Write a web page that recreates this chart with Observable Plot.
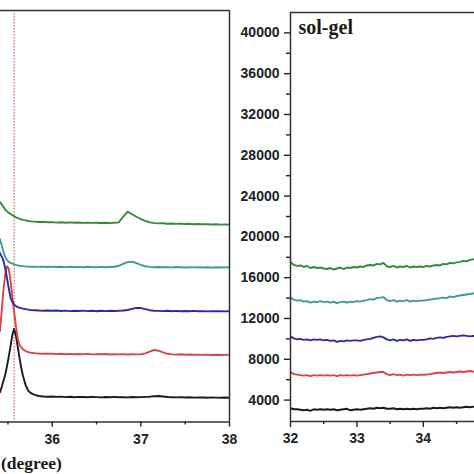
<!DOCTYPE html>
<html>
<head>
<meta charset="utf-8">
<script src="https://cdn.jsdelivr.net/npm/d3@7"></script>
<script src="https://cdn.jsdelivr.net/npm/@observablehq/plot@0.6"></script>
<style>
  html, body { margin: 0; padding: 0; background: #fff; }
  #fig { position: relative; width: 474px; height: 474px; overflow: hidden; background: #fff; }
  #fig svg { position: absolute; top: 0; overflow: visible; }
</style>
</head>
<body>
<div id="fig"></div>
<script>
// XRD patterns: close-up of the (101) region (left) and the sol-gel series (right)

// ---- close-up panel, 2θ in degrees ----
const zoomAngle = [
  35.41, 35.43, 35.45, 35.47, 35.49, 35.51, 35.53, 35.55, 35.57, 35.59,
  35.61, 35.63, 35.65, 35.67, 35.70, 35.73, 35.76, 35.80, 35.85, 35.90,
  35.95, 36.00, 36.05, 36.10, 36.15, 36.20, 36.25, 36.30, 36.35, 36.40,
  36.45, 36.50, 36.55, 36.60, 36.65, 36.70, 36.75, 36.80, 36.85, 36.90,
  36.95, 37.00, 37.05, 37.10, 37.15, 37.20, 37.25, 37.30, 37.35, 37.40,
  37.45, 37.50, 37.55, 37.60, 37.65, 37.70, 37.75, 37.80, 37.85, 37.90,
  37.95, 38.00
];
const zoomBlack = [
  4800, 5350, 5950, 6550, 7400, 8350, 9350, 10450, 11000, 10350,
  9300, 8200, 7200, 6400, 5500, 4950, 4720, 4560, 4450, 4400,
  4380, 4400, 4360, 4390, 4340, 4370, 4330, 4360, 4350, 4320,
  4360, 4340, 4310, 4350, 4330, 4360, 4320, 4340, 4310, 4350,
  4320, 4340, 4360, 4380, 4420, 4450, 4400, 4350, 4330, 4310,
  4340, 4300, 4320, 4290, 4310, 4300, 4280, 4310, 4290, 4280,
  4300, 4280
];
const zoomRed = [
  10800, 12800, 14900, 16400, 17150, 16900, 15700, 14100, 12700, 11300,
  10100, 9500, 9200, 9000, 8850, 8750, 8680, 8640, 8600, 8580,
  8600, 8580, 8550, 8590, 8540, 8570, 8530, 8560, 8540, 8570,
  8520, 8550, 8530, 8560, 8510, 8540, 8520, 8550, 8510, 8530,
  8520, 8540, 8620, 8800, 8950, 8880, 8720, 8580, 8520, 8500,
  8530, 8490, 8510, 8480, 8500, 8470, 8490, 8460, 8480, 8460,
  8470, 8470
];
const zoomBlue = [
  18450, 18100, 17680, 16900, 15950, 14950, 14050, 13650, 13400, 13250,
  13150, 13100, 13050, 13000, 12950, 12900, 12870, 12850, 12820, 12800,
  12820, 12790, 12820, 12770, 12810, 12760, 12800, 12770, 12810, 12760,
  12790, 12750, 12790, 12760, 12800, 12770, 12790, 12820, 12870, 12980,
  13080, 13060, 12950, 12850, 12800, 12780, 12760, 12790, 12750, 12780,
  12740, 12770, 12750, 12780, 12740, 12760, 12730, 12760, 12740, 12750,
  12730, 12750
];
const zoomTeal = [
  19800, 19200, 18550, 18050, 17750, 17580, 17480, 17400, 17330, 17280,
  17240, 17200, 17180, 17160, 17140, 17120, 17110, 17100, 17090, 17110,
  17080, 17120, 17080, 17110, 17070, 17100, 17060, 17090, 17060, 17100,
  17070, 17050, 17090, 17060, 17080, 17100, 17200, 17380, 17560, 17600,
  17450, 17280, 17150, 17090, 17060, 17080, 17050, 17070, 17040, 17080,
  17050, 17030, 17060, 17040, 17070, 17030, 17050, 17020, 17050, 17030,
  17040, 17050
];
const zoomGreen = [
  23450, 23200, 22950, 22700, 22520, 22380, 22270, 22150, 22050, 21950,
  21880, 21800, 21750, 21700, 21640, 21590, 21550, 21520, 21490, 21500,
  21460, 21470, 21430, 21460, 21420, 21450, 21410, 21440, 21400, 21430,
  21400, 21420, 21390, 21410, 21380, 21420, 21450, 22000, 22500, 22250,
  22000, 21780, 21600, 21450, 21380, 21350, 21360, 21320, 21340, 21300,
  21320, 21290, 21310, 21270, 21290, 21260, 21280, 21240, 21260, 21230,
  21250, 21230
];
const referenceAngle = 35.57;
const zoomTicks = [36, 37, 38];
const zoomMinorTicks = [35.5, 36.5, 37.5];
const zoomAxisLabel = "(degree)";

// ---- sol-gel panel ----
const solGelAngle = [
  32.00, 32.05, 32.10, 32.15, 32.20, 32.25, 32.30, 32.35, 32.40, 32.45,
  32.50, 32.55, 32.60, 32.65, 32.70, 32.75, 32.80, 32.85, 32.90, 32.95,
  33.00, 33.05, 33.10, 33.15, 33.20, 33.25, 33.30, 33.35, 33.40, 33.45,
  33.50, 33.55, 33.60, 33.65, 33.70, 33.75, 33.80, 33.85, 33.90, 33.95,
  34.00, 34.05, 34.10, 34.15, 34.20, 34.25, 34.30, 34.35, 34.40, 34.45,
  34.50, 34.55, 34.60, 34.65, 34.70, 34.75, 34.80
];
const solGelGreen = [
  17550, 17250, 17150, 17200, 17050, 17150, 16950, 17050, 16950, 17000,
  16900, 16850, 16950, 16800, 16900, 17000, 16850, 17000, 16950, 17050,
  17000, 17100, 17050, 17200, 17250, 17200, 17350, 17300, 17450, 17100,
  17050, 17150, 17000, 17100, 17050, 17150, 17000, 17100, 17050, 17100,
  17050, 17150, 17100, 17200, 17250, 17200, 17350, 17300, 17450, 17400,
  17500, 17550, 17650, 17600, 17750, 17800, 17850
];
const solGelTeal = [
  14050, 13850, 13750, 13800, 13650, 13700, 13550, 13650, 13600, 13700,
  13600, 13650, 13550, 13650, 13500, 13600, 13650, 13550, 13650, 13600,
  13700, 13650, 13750, 13800, 13900, 13850, 14000, 14050, 14100, 13800,
  13700, 13800, 13650, 13750, 13700, 13800, 13650, 13750, 13700, 13750,
  13750, 13800, 13850, 13900, 13950, 14000, 14050, 14000, 14150, 14100,
  14200, 14250, 14300, 14350, 14400, 14450, 14450
];
const solGelBlue = [
  10250, 10050, 9950, 10000, 9900, 9950, 9850, 9950, 9900, 9950,
  9850, 9900, 9800, 9850, 9700, 9800, 9750, 9850, 9800, 9850,
  9850, 9800, 9900, 9950, 10000, 10100, 10200, 10250, 10150, 9950,
  9850, 9950, 9800, 9900, 9850, 9950, 9800, 9900, 9850, 9900,
  9900, 9950, 10050, 10000, 10100, 10150, 10100, 10200, 10250, 10300,
  10250, 10300, 10350, 10300, 10250, 10300, 10250
];
const solGelRed = [
  6750, 6550, 6500, 6450, 6400, 6450, 6350, 6450, 6400, 6450,
  6400, 6450, 6400, 6450, 6350, 6450, 6400, 6450, 6400, 6450,
  6400, 6450, 6500, 6550, 6600, 6650, 6700, 6750, 6750, 6550,
  6450, 6550, 6450, 6500, 6400, 6500, 6450, 6500, 6450, 6500,
  6480, 6500, 6550, 6600, 6650, 6700, 6650, 6700, 6750, 6700,
  6750, 6800, 6750, 6800, 6850, 6800, 6750
];
const solGelBlack = [
  3200, 3100, 3100, 3050, 3000, 3050, 2950, 3100, 3050, 3100,
  3050, 3100, 3050, 3100, 3000, 3050, 3100, 3150, 3000, 3050,
  3100, 3050, 3100, 3150, 3200, 3150, 3250, 3200, 3250, 3150,
  3150, 3200, 3100, 3150, 3100, 3150, 3100, 3150, 3100, 3150,
  3150, 3200, 3150, 3250, 3200, 3250, 3200, 3250, 3300, 3250,
  3300, 3250, 3300, 3350, 3300, 3350, 3300
];
const solGelTicks = [32, 33, 34];
const solGelMinorTicks = [32.5, 33.5, 34.5];
const intensityTicks = [4000, 8000, 12000, 16000, 20000, 24000, 28000, 32000, 36000, 40000];
const intensityMinorTicks = [6000, 10000, 14000, 18000, 22000, 26000, 30000, 34000, 38000];
const solGelTitle = "sol-gel";

// ---- drawing ----
const colors = {
  black: "#1b1b1b",
  red: "#d5474b",
  blue: "#2a2aa6",
  teal: "#3b9c94",
  green: "#358a35"
};
const axisColor = "#333";

function rows(xs, ys) {
  return xs.map((x, i) => ({angle: x, counts: ys[i]}));
}

const zoomX = [35.416, 38];
const zoomY = [1900, 42200];
const solX = [32, 34.77];
const solY = [1900, 42000];

const baseStyle = {
  fontFamily: "'Liberation Sans', Arial, sans-serif",
  fontSize: "14px",
  fontWeight: "bold",
  color: "#222",
  background: "transparent"
};

const zoomSeries = [
  [zoomBlack, colors.black], [zoomRed, colors.red], [zoomBlue, colors.blue],
  [zoomTeal, colors.teal], [zoomGreen, colors.green]
];
const solSeries = [
  [solGelBlack, colors.black], [solGelRed, colors.red], [solGelBlue, colors.blue],
  [solGelTeal, colors.teal], [solGelGreen, colors.green]
];

const left = Plot.plot({
  width: 240, height: 474,
  marginLeft: 0, marginRight: 11, marginTop: 10, marginBottom: 52.5,
  x: {domain: zoomX},
  y: {domain: zoomY, axis: null},
  style: baseStyle,
  marks: [
    Plot.ruleX([referenceAngle], {stroke: "#c85a5e", strokeWidth: 1.1, strokeDasharray: "1.5,1.5"}),
    ...zoomSeries.map(([ys, c]) =>
      Plot.line(rows(zoomAngle, ys), {x: "angle", y: "counts", stroke: c, strokeWidth: 1.9, clip: true})),
    Plot.ruleY([zoomY[1]], {stroke: axisColor, strokeWidth: 1.5}),
    Plot.ruleY([zoomY[0]], {stroke: axisColor, strokeWidth: 1.5}),
    Plot.ruleX([zoomX[1]], {stroke: axisColor, strokeWidth: 1.5}),
    Plot.axisX({ticks: zoomTicks, tickSize: 5, tickPadding: 7, tickFormat: "d", label: null, strokeWidth: 1.4}),
    Plot.axisX({ticks: zoomMinorTicks, tickSize: 3, tickFormat: () => "", label: null, strokeWidth: 1.4}),
    Plot.text([zoomAxisLabel], {
      text: d => d, frameAnchor: "bottom-left", dx: 0.5, dy: 41.5,
      textAnchor: "start", lineAnchor: "middle",
      fontFamily: "'Liberation Serif', 'Times New Roman', serif", fontWeight: "bold", fontSize: 17.5,
      fill: "#1a1a1a"
    })
  ]
});
left.style.left = "0px";

const right = Plot.plot({
  width: 244, height: 474,
  marginLeft: 60, marginRight: 0, marginTop: 12, marginBottom: 53,
  x: {domain: solX},
  y: {domain: solY},
  style: baseStyle,
  marks: [
    ...solSeries.map(([ys, c]) =>
      Plot.line(rows(solGelAngle, ys), {x: "angle", y: "counts", stroke: c, strokeWidth: 1.9, clip: true})),
    Plot.ruleY([solY[1]], {stroke: axisColor, strokeWidth: 1.5}),
    Plot.ruleY([solY[0]], {stroke: axisColor, strokeWidth: 1.5}),
    Plot.ruleX([solX[0]], {stroke: axisColor, strokeWidth: 1.5}),
    Plot.axisX({ticks: solGelTicks, tickSize: 6, tickPadding: 6, tickFormat: "d", label: null, strokeWidth: 1.4}),
    Plot.axisX({ticks: solGelMinorTicks, tickSize: 3, tickFormat: () => "", label: null, strokeWidth: 1.4}),
    Plot.axisY({ticks: intensityTicks, tickSize: 6, tickPadding: 5, tickFormat: "d", label: null, strokeWidth: 1.4}),
    Plot.axisY({ticks: intensityMinorTicks, tickSize: 4, tickFormat: () => "", label: null, strokeWidth: 1.4}),
    Plot.text([solGelTitle], {
      text: d => d, frameAnchor: "top-left", dx: 8, dy: 21.5,
      textAnchor: "start", lineAnchor: "bottom",
      fontFamily: "'Liberation Serif', 'Times New Roman', serif", fontWeight: "bold", fontSize: 20,
      fill: "#1a1a1a"
    })
  ]
});
right.style.left = "230px";

const fig = document.getElementById("fig");
fig.appendChild(left);
fig.appendChild(right);
</script>
</body>
</html>
